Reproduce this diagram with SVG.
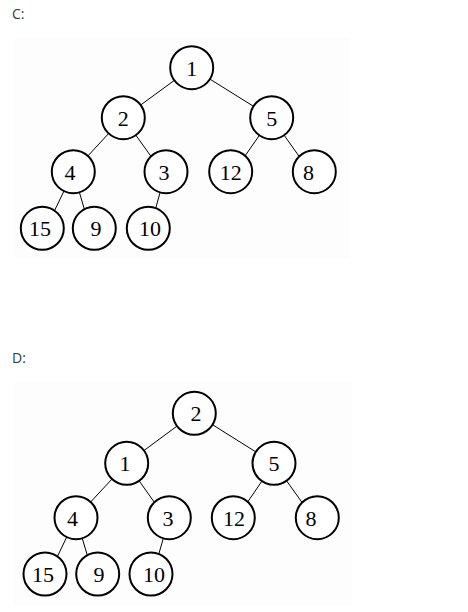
<svg xmlns="http://www.w3.org/2000/svg" width="468" height="612" viewBox="0 0 468 612">
<style>
.bg{fill:#fdfdfd}
.lbl{font-family:"Open Sans","Liberation Sans",sans-serif;font-size:14px;fill:#2d3b45}
.n circle{fill:#fff;stroke:#000;stroke-width:2}
.n text{font-family:"Liberation Serif","Times New Roman",serif;font-size:22px;fill:#000;text-anchor:middle}
.e line{stroke:#000;stroke-width:1}
</style>
<rect width="468" height="612" fill="#fff"/>
<rect class="bg" x="13" y="37" width="337" height="222"/>
<rect class="bg" x="13" y="382" width="339" height="224"/>
<text class="lbl" x="12" y="19">C:</text>
<text class="lbl" x="12" y="363">D:</text>
<g id="connectors-c" class="e">
<line x1="191.7" y1="67.7" x2="123.3" y2="117.7"/>
<line x1="191.7" y1="67.7" x2="271.7" y2="117.7"/>
<line x1="123.3" y1="117.7" x2="73.3" y2="171.7"/>
<line x1="123.3" y1="117.7" x2="162" y2="171.7"/>
<line x1="271.7" y1="117.7" x2="234" y2="171.7"/>
<line x1="271.7" y1="117.7" x2="310" y2="171.7"/>
<line x1="73.3" y1="171.7" x2="46" y2="228.3"/>
<line x1="73.3" y1="171.7" x2="90" y2="228.3"/>
<line x1="166" y1="171.7" x2="150" y2="228.3"/>
</g>
<g id="c1" class="n"><circle cx="191.7" cy="67.7" r="21.5"/><text x="191.7" y="75.5">1</text></g>
<g id="c2" class="n"><circle cx="123.3" cy="117.7" r="21.5"/><text x="123.3" y="125.5">2</text></g>
<g id="c5" class="n"><circle cx="271.7" cy="117.7" r="21.5"/><text x="271.7" y="125.5">5</text></g>
<g id="c4" class="n"><circle cx="73.3" cy="171.7" r="21.5"/><text x="70" y="179.5">4</text></g>
<g id="c3" class="n"><circle cx="166" cy="171.7" r="21.5"/><text x="164" y="179.5">3</text></g>
<g id="c12" class="n"><circle cx="230.7" cy="171.7" r="21.5"/><text x="230.7" y="179.5">12</text></g>
<g id="c8" class="n"><circle cx="314.3" cy="171.7" r="21.5"/><text x="308.5" y="179.5">8</text></g>
<g id="c15" class="n"><circle cx="42.3" cy="228.3" r="21.5"/><text x="40" y="236">15</text></g>
<g id="c9" class="n"><circle cx="94.3" cy="228.3" r="21.5"/><text x="96" y="236">9</text></g>
<g id="c10" class="n"><circle cx="148.3" cy="228.3" r="21.5"/><text x="150" y="236">10</text></g>
<g id="connectors-d" class="e">
<line x1="194.3" y1="413.3" x2="126.7" y2="463.3"/>
<line x1="194.3" y1="413.3" x2="274" y2="463.3"/>
<line x1="126.7" y1="463.3" x2="76" y2="517.7"/>
<line x1="126.7" y1="463.3" x2="165.3" y2="517.7"/>
<line x1="274" y1="463.3" x2="237" y2="517.7"/>
<line x1="274" y1="463.3" x2="313" y2="517.7"/>
<line x1="76" y1="517.7" x2="49" y2="574"/>
<line x1="76" y1="517.7" x2="93" y2="574"/>
<line x1="169.3" y1="517.7" x2="153" y2="574"/>
</g>
<g id="d2" class="n"><circle cx="194.3" cy="413.3" r="21.5"/><text x="196" y="421">2</text></g>
<g id="d1" class="n"><circle cx="126.7" cy="463.3" r="21.5"/><text x="125" y="471">1</text></g>
<g id="d5" class="n"><circle cx="274" cy="463.3" r="21.5"/><text x="274" y="471">5</text></g>
<g id="d4" class="n"><circle cx="76" cy="517.7" r="21.5"/><text x="72.5" y="525.5">4</text></g>
<g id="d3" class="n"><circle cx="169.3" cy="517.7" r="21.5"/><text x="168" y="525.5">3</text></g>
<g id="d12" class="n"><circle cx="233.3" cy="517.7" r="21.5"/><text x="234" y="525.5">12</text></g>
<g id="d8" class="n"><circle cx="317.3" cy="517.7" r="21.5"/><text x="311" y="525.5">8</text></g>
<g id="d15" class="n"><circle cx="45" cy="574" r="21.5"/><text x="43" y="582">15</text></g>
<g id="d9" class="n"><circle cx="97.7" cy="574" r="21.5"/><text x="99" y="582">9</text></g>
<g id="d10" class="n"><circle cx="151" cy="574" r="21.5"/><text x="154" y="582">10</text></g>
</svg>
